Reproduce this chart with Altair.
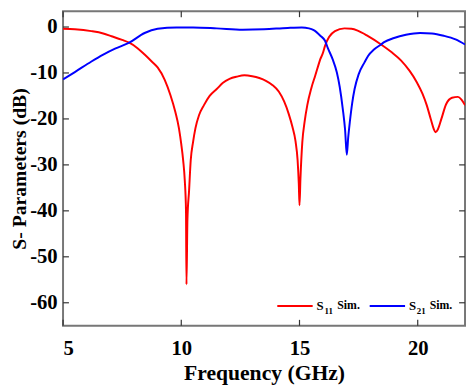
import altair as alt
import pandas as pd

# S11 (simulated) – frequency (GHz) and magnitude (dB)
s11_freq = [5.0, 5.5, 6.2, 6.7, 7.05, 7.5, 7.8, 8.15, 8.45, 8.75, 9.0, 9.3, 9.54, 9.75,
            9.9, 10.0, 10.08, 10.15, 10.2, 10.22, 10.26, 10.33, 10.4, 10.5, 10.6, 10.75,
            10.96, 11.2, 11.5, 11.75, 12.04, 12.35, 12.67, 13.0, 13.3, 13.58, 13.85, 14.13,
            14.35, 14.55, 14.7, 14.83, 14.92, 14.97, 15.0, 15.04, 15.12, 15.22, 15.33, 15.5,
            15.67, 15.8, 15.88, 15.98, 16.08, 16.25, 16.5, 16.9, 17.2, 17.46, 17.9, 18.45,
            18.9, 19.3, 19.65, 19.96, 20.2, 20.38, 20.55, 20.68, 20.75, 20.85, 21.0, 21.2,
            21.45, 21.7, 21.85, 22.0]
s11_db = [-0.4, -0.5, -0.9, -1.4, -2.0, -2.8, -3.4, -4.6, -6.0, -7.5, -8.8, -11.5, -14.8, -18.5,
          -22.0, -25.5, -29.0, -33.5, -40.0, -56.0, -42.0, -35.6, -29.0, -25.0, -22.0, -19.2,
          -17.0, -15.0, -13.5, -12.2, -11.3, -10.8, -10.5, -10.7, -11.1, -11.7, -12.6, -14.1,
          -16.2, -19.0, -21.7, -24.8, -29.0, -34.0, -38.8, -33.0, -25.0, -20.5, -17.0, -13.3,
          -10.5, -8.3, -7.0, -5.8, -4.1, -2.2, -0.9, -0.3, -0.4, -0.8, -2.0, -3.8,
          -5.5, -7.3, -9.5, -12.0, -14.5, -17.0, -20.0, -22.2, -22.9, -22.3, -20.0, -16.8,
          -15.4, -15.2, -15.8, -17.0]

# S21 (simulated)
s21_freq = [5.0, 5.5, 6.2, 6.7, 7.2, 7.8, 8.45, 9.0, 9.8, 10.5, 11.5, 12.6, 13.5, 14.5, 15.1,
            15.4, 15.6, 15.88, 16.08, 16.2, 16.4, 16.58, 16.7, 16.83, 16.93, 17.0, 17.06,
            17.13, 17.23, 17.33, 17.5, 17.75, 17.9, 18.15, 18.45, 18.58, 19.0, 19.5, 20.1,
            20.6, 21.1, 21.6, 22.0]
s21_db = [-11.4, -9.8, -7.5, -6.0, -4.7, -3.4, -1.3, -0.4, -0.1, -0.1, -0.3, -0.6, -0.5, -0.2, -0.1,
          -0.3, -0.7, -1.9, -3.0, -4.6, -7.0, -9.9, -13.0, -17.8, -22.5, -27.8, -24.0,
          -20.6, -16.5, -13.5, -10.3, -7.7, -6.3, -4.9, -3.8, -3.3, -2.4, -1.7, -1.3,
          -1.4, -1.9, -2.7, -3.8]

series_names = ["S11 Sim.", "S21 Sim."]
series_subs = ["11", "21"]
series_colors = ["#ff0000", "#0000ff"]

x_ticks = [5, 10, 15, 20]
y_ticks = [0, -10, -20, -30, -40, -50, -60]

df = pd.concat([
    pd.DataFrame({"f": s11_freq, "db": s11_db, "s": series_names[0]}),
    pd.DataFrame({"f": s21_freq, "db": s21_db, "s": series_names[1]}),
])

FONT = "Liberation Serif"
W, H = 409, 320
xs = alt.Scale(domain=[5, 22], nice=False, zero=False)
ys = alt.Scale(domain=[-65, 3.43], nice=False, zero=False)
cs = alt.Scale(domain=series_names, range=series_colors)

lines = alt.Chart(df).mark_line(strokeWidth=2, interpolate="monotone", clip=True).encode(
    x=alt.X("f:Q", scale=xs, title="Frequency (GHz)",
            axis=alt.Axis(values=x_ticks, ticks=False, domain=False, grid=False,
                          labelPadding=12, titlePadding=5, labelExpr="'' + datum.value")),
    y=alt.Y("db:Q", scale=ys, title="S- Parameters (dB)",
            axis=alt.Axis(values=y_ticks, ticks=False, domain=False, grid=False,
                          labelPadding=6, titlePadding=0, titleFontSize=20,
                          labelExpr="'' + datum.value")),
    color=alt.Color("s:N", scale=cs, legend=None),
)

ytick_df = pd.DataFrame({"v": y_ticks})
xtick_df = pd.DataFrame({"v": x_ticks})

yt_left = alt.Chart(ytick_df).mark_rule(color="#333", strokeWidth=1.2).encode(
    y=alt.Y("v:Q", scale=ys), x=alt.value(0), x2=alt.value(6))
yt_right = alt.Chart(ytick_df).mark_rule(color="#333", strokeWidth=1.2).encode(
    y=alt.Y("v:Q", scale=ys), x=alt.value(W - 6), x2=alt.value(W))
xt_bottom = alt.Chart(xtick_df).mark_rule(color="#333", strokeWidth=1.2).encode(
    x=alt.X("v:Q", scale=xs), y=alt.value(H - 6), y2=alt.value(H))
xt_top = alt.Chart(xtick_df).mark_rule(color="#333", strokeWidth=1.2).encode(
    x=alt.X("v:Q", scale=xs), y=alt.value(0), y2=alt.value(6))

# legend built from the series arrays
leg_df = pd.DataFrame({"s": series_names, "sub": series_subs, "i": [0, 1]})
LY = 300
leg_sym = alt.Chart(leg_df).mark_rule(strokeWidth=2).encode(
    x=alt.X("xs:Q", scale=None), x2="xe:Q", y=alt.value(LY),
    color=alt.Color("s:N", scale=cs, legend=None),
).transform_calculate(xs="218 + datum.i * 94", xe="254 + datum.i * 94")
leg_S = alt.Chart(leg_df).mark_text(font=FONT, fontWeight="bold", fontSize=13, align="left",
                                    baseline="middle", color="black").encode(
    x=alt.X("xt:Q", scale=None), y=alt.value(LY), text=alt.value("S"),
).transform_calculate(xt="258 + datum.i * 94")
leg_sub = alt.Chart(leg_df).mark_text(font=FONT, fontWeight="bold", fontSize=9, align="left",
                                      baseline="middle", color="black").encode(
    x=alt.X("xt:Q", scale=None), y=alt.value(LY + 5), text="sub:N",
).transform_calculate(xt="266 + datum.i * 94")
leg_sim = alt.Chart(leg_df).mark_text(font=FONT, fontWeight="bold", fontSize=12, align="left",
                                      baseline="middle", color="black").encode(
    x=alt.X("xt:Q", scale=None), y=alt.value(LY - 1), text=alt.value("Sim."),
).transform_calculate(xt="279 + datum.i * 94")

chart = alt.layer(lines, yt_left, yt_right, xt_bottom, xt_top,
                  leg_sym, leg_S, leg_sub, leg_sim).properties(
    width=W, height=H,
    background="white",
    autosize=alt.AutoSizeParams(type="none"),
    padding={"left": 56, "top": 0, "right": 1, "bottom": 58},
).configure_view(
    stroke="#777", strokeWidth=2
).configure_axis(
    labelFont=FONT, labelFontSize=21, labelFontWeight="bold", labelColor="black",
    titleFont=FONT, titleFontSize=22, titleFontWeight="bold", titleColor="black",
)

chart.save("out.html", embed_options={"renderer": "svg", "actions": False})
